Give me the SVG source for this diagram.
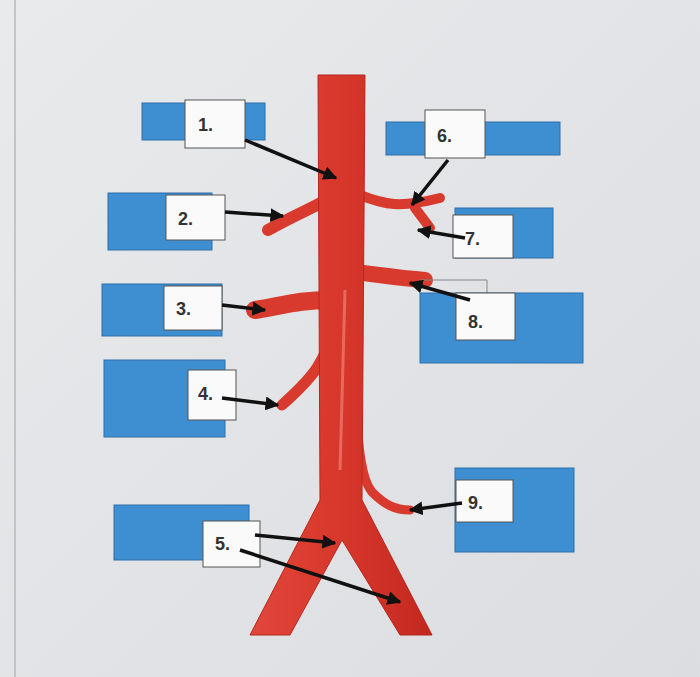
<svg xmlns="http://www.w3.org/2000/svg" width="700" height="677" viewBox="0 0 700 677">
<defs>
<linearGradient id="bg" x1="0" y1="0" x2="1" y2="1"><stop offset="0" stop-color="#e9eaec"/><stop offset="1" stop-color="#dcdde0"/></linearGradient>
<linearGradient id="red" x1="0" y1="0" x2="1" y2="0"><stop offset="0" stop-color="#e0473a"/><stop offset="0.5" stop-color="#d8372b"/><stop offset="1" stop-color="#c2281f"/></linearGradient>
<marker id="ah" viewBox="0 0 10 10" refX="9" refY="5" markerWidth="4" markerHeight="4" orient="auto"><path d="M0,0L10,5L0,10z" fill="#111"/></marker>
</defs>
<style>
.blue{fill:#3d8fd2;stroke:#2f6fa8;stroke-width:1}
.wb{fill:#fafafa;stroke:#555;stroke-width:1}
.t{font-family:"Liberation Sans",Arial,sans-serif;font-size:18px;font-weight:bold;fill:#333}
.v{fill:url(#red);stroke:#b8261d;stroke-width:1}
.br{fill:none;stroke:#d83a2e;stroke-linecap:round}
.ar{stroke:#111;stroke-width:3.5;fill:none;marker-end:url(#ah)}
</style>
<rect width="700" height="677" fill="url(#bg)"/>
<line x1="15" y1="0" x2="15" y2="677" stroke="#b8b8bb" stroke-width="1.5"/>
<g id="vessels">
<path class="br" stroke-width="9" d="M330,160 C345,170 345,185 335,195"/>
<path class="br" stroke-width="12" d="M335,195 C320,205 300,212 268,230"/>
<path class="br" stroke-width="10" d="M360,195 C385,205 400,208 440,198 M415,208 L430,228"/>
<path class="br" stroke-width="18" d="M330,300 C300,300 285,305 255,310"/>
<path class="br" stroke-width="16" d="M355,272 C380,275 400,278 425,280"/>
<path class="br" stroke-width="11" d="M332,320 C330,360 310,380 282,405"/>
<path class="br" stroke-width="9" d="M356,400 C358,450 362,480 372,492 C385,505 395,510 410,510"/>
<path class="v" d="M318,75 L365,75 L362,500 L432,635 L400,635 L342,540 L290,635 L250,635 L320,500 Z"/>
<path d="M345,290 L340,470" stroke="#e86a5e" stroke-width="3" fill="none"/>
</g>
<g id="n1"><rect class="blue" x="142" y="103" width="123" height="37"/><rect class="wb" x="185" y="100" width="60" height="48"/><text class="t" x="198" y="131">1.</text></g>
<g id="n6"><rect class="blue" x="386" y="122" width="174" height="33"/><rect class="wb" x="425" y="110" width="60" height="48"/><text class="t" x="437" y="142">6.</text></g>
<g id="n2"><rect class="blue" x="108" y="193" width="104" height="57"/><rect class="wb" x="166" y="195" width="59" height="45"/><text class="t" x="178" y="225">2.</text></g>
<g id="n7"><rect class="blue" x="455" y="208" width="98" height="50"/><rect class="wb" x="453" y="215" width="60" height="43"/><text class="t" x="465" y="245">7.</text></g>
<g id="n3"><rect class="blue" x="102" y="284" width="120" height="52"/><rect class="wb" x="164" y="286" width="58" height="44"/><text class="t" x="176" y="315">3.</text></g>
<g id="n8"><path d="M420,280 L487,280 L487,293" stroke="#888" fill="none"/><rect class="blue" x="420" y="293" width="163" height="70"/><rect class="wb" x="456" y="293" width="59" height="47"/><text class="t" x="468" y="328">8.</text></g>
<g id="n4"><rect class="blue" x="104" y="360" width="121" height="77"/><rect class="wb" x="188" y="370" width="48" height="50"/><text class="t" x="198" y="400">4.</text></g>
<g id="n9"><rect class="blue" x="455" y="468" width="119" height="84"/><rect class="wb" x="456" y="480" width="57" height="42"/><text class="t" x="468" y="509">9.</text></g>
<g id="n5"><rect class="blue" x="114" y="505" width="135" height="55"/><rect class="wb" x="203" y="521" width="57" height="46"/><text class="t" x="215" y="550">5.</text></g>
<g id="connectors">
<path class="ar" d="M245,140 L336,178"/>
<path class="ar" d="M225,212 L283,216"/>
<path class="ar" d="M448,160 L412,205"/>
<path class="ar" d="M465,238 L418,230"/>
<path class="ar" d="M222,305 L265,310"/>
<path class="ar" d="M470,300 L410,283"/>
<path class="ar" d="M222,398 L278,405"/>
<path class="ar" d="M462,503 L410,510"/>
<path class="ar" d="M255,535 L335,543"/>
<path class="ar" d="M240,550 L400,602"/>
</g>
</svg>
